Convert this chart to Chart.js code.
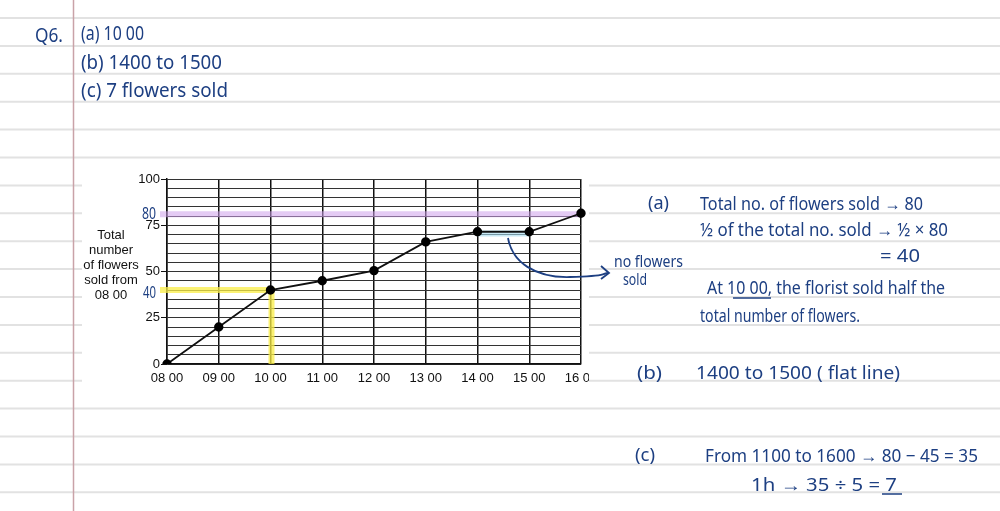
<!DOCTYPE html>
<html>
<head>
<meta charset="utf-8">
<script src="https://cdn.jsdelivr.net/npm/chart.js@4"></script>
<style>
  html, body { margin: 0; padding: 0; background: #fff; }
  #page { position: relative; width: 1000px; height: 511px; overflow: hidden; }
  #paper, #notes { position: absolute; left: 0; top: 0; }
  #chart { position: absolute; left: 0; top: 0; }
  #notes text { font-family: "Noto Sans", sans-serif; fill: #1d3f82; }
</style>
</head>
<body>
<div id="page">
  <svg id="paper" width="1000" height="511"></svg>
  <canvas id="chart" width="589" height="511"></canvas>
  <svg id="notes" width="1000" height="511">
    <text x="35" y="42" font-size="19" textLength="28" lengthAdjust="spacingAndGlyphs">Q6.</text>
    <text x="81" y="40" font-size="19" textLength="63" lengthAdjust="spacingAndGlyphs">(a) 10 00</text>
    <text x="81" y="69" font-size="19" textLength="141" lengthAdjust="spacingAndGlyphs">(b) 1400 to 1500</text>
    <text x="81" y="97" font-size="19" textLength="147" lengthAdjust="spacingAndGlyphs">(c) 7 flowers sold</text>

    <text x="648" y="209" font-size="18" textLength="21" lengthAdjust="spacingAndGlyphs">(a)</text>
    <text x="700" y="210" font-size="18" textLength="223" lengthAdjust="spacingAndGlyphs">Total no. of flowers sold → 80</text>
    <text x="700" y="236" font-size="18" textLength="248" lengthAdjust="spacingAndGlyphs">½ of the total no. sold → ½ × 80</text>
    <text x="880" y="262" font-size="18" textLength="40" lengthAdjust="spacingAndGlyphs">= 40</text>
    <text x="707" y="294" font-size="18" textLength="238" lengthAdjust="spacingAndGlyphs">At 10 00, the florist sold half the</text>
    <line x1="733" y1="298" x2="771" y2="298" stroke="#1d3f82" stroke-width="1.5"/>
    <text x="700" y="322" font-size="18" textLength="160" lengthAdjust="spacingAndGlyphs">total number of flowers.</text>

    <text x="614" y="267" font-size="16" textLength="69" lengthAdjust="spacingAndGlyphs">no flowers</text>
    <text x="623" y="285" font-size="16" textLength="24" lengthAdjust="spacingAndGlyphs">sold</text>
    <path d="M 508 238 C 512 262, 535 278, 570 277 S 598 275, 608 273" fill="none" stroke="#1d3f82" stroke-width="1.8"/>
    <path d="M 601 266 L 609 273 L 601 279" fill="none" stroke="#1d3f82" stroke-width="1.8"/>

    <text x="637" y="379" font-size="18" textLength="25" lengthAdjust="spacingAndGlyphs">(b)</text>
    <text x="696" y="379" font-size="18" textLength="204" lengthAdjust="spacingAndGlyphs">1400 to 1500 ( flat line)</text>

    <text x="635" y="461" font-size="18" textLength="20" lengthAdjust="spacingAndGlyphs">(c)</text>
    <text x="705" y="462" font-size="18" textLength="273" lengthAdjust="spacingAndGlyphs">From 1100 to 1600 → 80 − 45 = 35</text>
    <text x="751" y="491" font-size="18" textLength="146" lengthAdjust="spacingAndGlyphs">1h → 35 ÷ 5 = 7</text>
    <line x1="882" y1="494" x2="902" y2="494" stroke="#1d3f82" stroke-width="1.5"/>

    <text x="142" y="219" font-size="17" textLength="14" lengthAdjust="spacingAndGlyphs">80</text>
    <text x="143" y="298" font-size="17" textLength="13" lengthAdjust="spacingAndGlyphs">40</text>
  </svg>
</div>
<script>
// data
const hours = ['08 00', '09 00', '10 00', '11 00', '12 00', '13 00', '14 00', '15 00', '16 00'];
const flowersSold = [0, 20, 40, 45, 50.5, 66, 71.5, 71.5, 81.5];
const yTitleLines = ['Total', 'number', 'of flowers', 'sold from', '08 00'];

// highlighted readings
const totalSold = 81;
const halfSold = 40;
const halfIndex = 2;
const flatFrom = 6;
const flatTo = 7;
const flatLevel = 70.5;

const ink = '#111111';

// notebook paper
const paper = document.getElementById('paper');
let lines = '';
for (let y = 18; y < 511; y += 27.9) {
    lines += `<line x1="0" y1="${y}" x2="1000" y2="${y}" stroke="#e2e2e2" stroke-width="2"/>`;
}
lines += '<line x1="73.5" y1="0" x2="73.5" y2="511" stroke="#c9a2a8" stroke-width="1.5"/>';
paper.innerHTML = lines;

const sheetPlugin = {
    id: 'sheet',
    beforeDraw(chart) {
        const ctx = chart.ctx;
        ctx.save();
        ctx.fillStyle = '#ffffff';
        ctx.fillRect(82, 165, 507, 228);
        ctx.restore();
    },
    beforeDatasetsDraw(chart) {
        const ctx = chart.ctx;
        const x = chart.scales.x, y = chart.scales.y;
        ctx.save();
        ctx.lineCap = 'butt';
        // total line (purple)
        ctx.strokeStyle = 'rgba(205, 160, 235, 0.55)';
        ctx.lineWidth = 6;
        ctx.beginPath();
        ctx.moveTo(160, y.getPixelForValue(totalSold));
        ctx.lineTo(x.getPixelForValue(hours.length - 1), y.getPixelForValue(totalSold));
        ctx.stroke();
        // half total (yellow)
        ctx.strokeStyle = 'rgba(250, 238, 70, 0.75)';
        ctx.beginPath();
        ctx.moveTo(160, y.getPixelForValue(halfSold));
        ctx.lineTo(x.getPixelForValue(halfIndex) + 1, y.getPixelForValue(halfSold));
        ctx.lineTo(x.getPixelForValue(halfIndex) + 1, y.getPixelForValue(0));
        ctx.stroke();
        // flat part (light blue)
        ctx.strokeStyle = 'rgba(165, 220, 240, 0.6)';
        ctx.beginPath();
        ctx.moveTo(x.getPixelForValue(flatFrom), y.getPixelForValue(flatLevel));
        ctx.lineTo(x.getPixelForValue(flatTo), y.getPixelForValue(flatLevel));
        ctx.stroke();
        ctx.restore();
    },
    afterDraw(chart) {
        const ctx = chart.ctx;
        ctx.save();
        ctx.fillStyle = ink;
        ctx.font = '13px "Liberation Sans", Arial, sans-serif';
        ctx.textAlign = 'center';
        ctx.textBaseline = 'middle';
        yTitleLines.forEach((t, i) => ctx.fillText(t, 111, 235 + i * 15));
        ctx.restore();
    }
};

new Chart(document.getElementById('chart'), {
    type: 'line',
    data: {
        labels: hours,
        datasets: [{
            data: flowersSold,
            borderColor: ink,
            borderWidth: 1.8,
            pointRadius: 3.8,
            pointBackgroundColor: '#000',
            pointBorderColor: '#000',
            tension: 0
        }]
    },
    options: {
        responsive: false,
        animation: false,
        devicePixelRatio: 1,
        layout: {padding: {left: 127, top: 179, right: 8, bottom: 117}},
        plugins: {legend: {display: false}, tooltip: {enabled: false}},
        scales: {
            x: {
                type: 'category',
                offset: false,
                afterFit(scale) {
                    scale.height = 30;
                    scale.paddingLeft = 0;
                    scale.paddingRight = 0;
                },
                grid: {color: ink, lineWidth: 1.5, drawTicks: false, offset: false},
                border: {color: ink, width: 1.5},
                ticks: {
                    color: ink,
                    padding: 7,
                    maxRotation: 0,
                    autoSkip: false,
                    font: {family: '"Liberation Sans", Arial, sans-serif', size: 13}
                }
            },
            y: {
                min: 0,
                max: 100,
                afterFit(scale) {
                    scale.width = 40;
                    scale.paddingTop = 0;
                    scale.paddingBottom = 0;
                },
                grid: {
                    color: '#333333',
                    lineWidth: 1,
                    tickLength: 6,
                    tickColor: (c) => (c.tick && c.tick.value % 25 === 0) ? ink : 'rgba(0,0,0,0)'
                },
                border: {color: ink, width: 1.5},
                ticks: {
                    stepSize: 5,
                    autoSkip: false,
                    color: ink,
                    padding: 1,
                    font: {family: '"Liberation Sans", Arial, sans-serif', size: 13},
                    callback: (v) => v % 25 === 0 ? v : ''
                }
            }
        }
    },
    plugins: [sheetPlugin]
});
</script>
</body>
</html>
